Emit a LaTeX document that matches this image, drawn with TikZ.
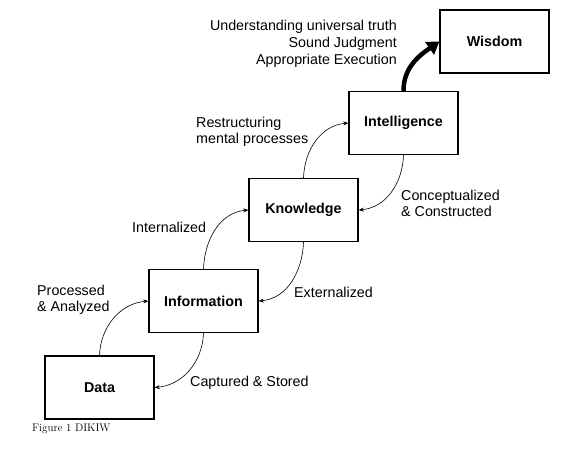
\documentclass[tikz,border=0pt]{standalone}
\usepackage{fontspec}
\newfontfamily\arialf{Liberation Sans}
\usetikzlibrary{arrows.meta}
\begin{document}
\begin{tikzpicture}[x=1pt,y=-1pt,
  stage/.style={draw,line width=1.3pt,minimum width=109pt,minimum height=63pt,inner sep=0pt,font=\arialf\bfseries\fontsize{14.3}{17}\selectfont},
  lbl/.style={inner sep=0pt,font=\arialf\fontsize{14.3}{17}\selectfont},
  flow/.style={line width=0.6pt,-{Stealth[length=5pt,width=4pt]}},
  bigflow/.style={line width=4.5pt,-{Triangle[length=12pt,width=15pt]}}]
\useasboundingbox (0,0) rectangle (583,448);
\node[stage] (data) at (99.5,387.5) {Data};
\node[stage] (info) at (203.5,301) {Information};
\node[stage] (know) at (303.5,210) {Knowledge};
\node[stage] (intel) at (403.5,123) {Intelligence};
\node[stage] (wis) at (494.5,41.5) {Wisdom};
\draw[flow] (data.north) to[out=88,in=185] (info.west);
\draw[flow] (info.south) to[out=-92,in=5] (data.east);
\draw[flow] (info.north) to[out=88,in=185] (know.west);
\draw[flow] (know.south) to[out=-92,in=5] (info.east);
\draw[flow] (know.north) to[out=88,in=185] (intel.west);
\draw[flow] (intel.south) to[out=-92,in=5] (know.east);
\draw[bigflow] (intel.north) to[out=90,in=215] (wis.west);
\node[lbl,anchor=west,align=left] (pa) at (37,300) {Processed\\[-0.5pt]\& Analyzed};
\node[lbl,anchor=west] (cs) at (190,383) {Captured \& Stored};
\node[lbl,anchor=west] (int) at (132,227) {Internalized};
\node[lbl,anchor=west] (ext) at (294,292) {Externalized};
\node[lbl,anchor=west,align=left] (rmp) at (196,132) {Restructuring\\[-1pt]mental processes};
\node[lbl,anchor=west,align=left] (cc) at (401,203.5) {Conceptualized\\[-0.5pt]\& Constructed};
\node[lbl,anchor=east,align=right] (ut) at (397,44) {Understanding universal truth\\Sound Judgment\\Appropriate Execution};
\node[inner sep=0pt,anchor=west,font=\fontsize{11}{13}\selectfont] (cap) at (32,429) {Figure 1 DIKIW};
\end{tikzpicture}
\end{document}
